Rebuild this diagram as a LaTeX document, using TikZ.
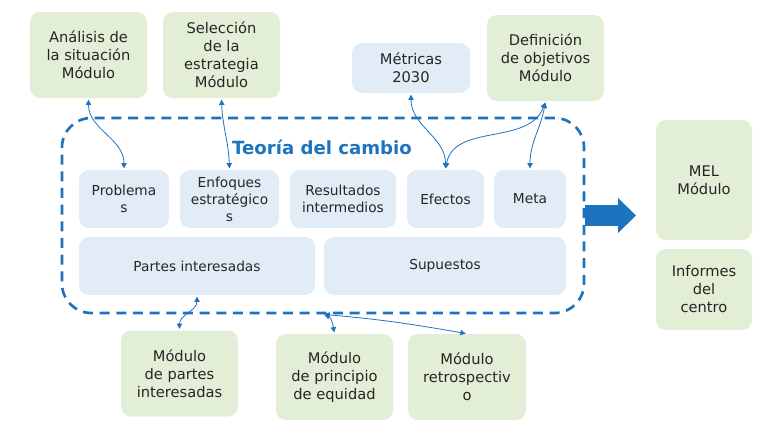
\documentclass[tikz,border=0pt]{standalone}
\usepackage{fontspec}
\setmainfont{DejaVu Sans}
\usepackage{tikz}
\usetikzlibrary{positioning, arrows.meta, calc}
\definecolor{verde}{HTML}{E2EED5}
\definecolor{celeste}{HTML}{E2ECF6}
\definecolor{azul}{HTML}{1E73BE}
\definecolor{tinta}{HTML}{262626}
\tikzset{
  caja/.style={fill=#1, rounded corners=7.5pt, align=center, text=tinta,
               font=\fontsize{11}{13.5}\selectfont, inner sep=2pt},
  caja/.default=verde,
  modulo/.style={caja=verde, minimum width=87.75pt, minimum height=64.5pt},
  bloque/.style={caja=celeste, minimum height=43.5pt, font=\fontsize{10.3}{12.75}\selectfont},
  marco/.style={draw=azul, line width=2pt, dash pattern=on 7.5pt off 5pt,
                rounded corners=22pt, minimum width=391.5pt, minimum height=146.25pt},
  con/.style={{Triangle[length=4pt,width=4pt]}-{Triangle[length=4pt,width=4pt]},
              draw=azul, line width=0.6pt, shorten <=1pt, shorten >=1pt},
  bigarr/.style={-{Triangle[length=13.5pt,width=25.5pt]}, line width=15.75pt, draw=azul},
}

\begin{document}
\begin{tikzpicture}[x=0.75pt, y=-0.75pt]
    \useasboundingbox (0,0) rectangle (768,433);
    % fila superior
    \node[modulo] (ana) at (88.5, 55)  {Análisis de\\la situación\\Módulo};
    \node[modulo] (sel) at (221.5, 55) {Selección\\de la\\estrategia\\Módulo};
    \node[caja=celeste, minimum width=88.5pt, minimum height=37.5pt]
                  (met) at (411, 68)   {Métricas\\2030};
    \node[modulo] (def) at (545.5, 58) {Definición\\de objetivos\\Módulo};
    % teoria del cambio
    \node[marco]  (toc) at (323, 215.5) {};
    \node[font=\fontsize{13.6}{16}\selectfont\bfseries, text=azul]
                  (titulo) at (322, 147) {Teoría del cambio};
    \node[bloque, minimum width=67.5pt] (prob) at (124, 199)   {Problema\\s};
    \node[bloque, minimum width=74.25pt] (enf) at (229.5, 199) {Enfoques\\estratégico\\s};
    \node[bloque, minimum width=79.5pt] (res)  at (343, 199)   {Resultados\\intermedios};
    \node[bloque, minimum width=57.75pt] (efe) at (445.5, 199) {Efectos};
    \node[bloque, minimum width=54pt] (meta)   at (530, 199)   {Meta};
    \node[bloque, minimum width=177pt] (partes) at (197, 266)  {Partes interesadas};
    \node[bloque, minimum width=181.5pt] (sup)  at (445, 266)  {Supuestos};
    % derecha
    \coordinate (fin) at (636, 215.5);
    \node[caja, minimum width=72pt, minimum height=90pt]    (mel) at (704, 180)   {MEL\\Módulo};
    \node[caja, minimum width=72pt, minimum height=60.75pt] (inf) at (704, 289.5) {Informes\\del\\centro};
    % fila inferior
    \node[modulo] (mpar)   at (179.5, 373.5) {Módulo\\de partes\\interesadas};
    \node[modulo] (mprin)  at (334.5, 377)   {Módulo\\de principio\\de equidad};
    \node[modulo, minimum width=88.5pt] (mret) at (467, 377) {Módulo\\retrospectiv\\o};

    \draw[bigarr] (toc.east) -- (fin);
    \draw[con] (ana.south) to[out=-90, in=90] (prob.north);
    \draw[con] (sel.south) to[out=-88, in=92] (enf.north);
    \draw[con] (met.south) to[out=-90, in=90] (efe.north);
    \draw[con] (def.south) to[out=-110, in=80] (efe.north);
    \draw[con] (def.south) to[out=-100, in=90] (meta.north);
    \draw[con] (partes.south) to[out=-90, in=90] (mpar.north);
    \draw[con] (toc.south) to[out=-20, in=100] (mprin.north);
    \draw[con] (toc.south) to[out=-5, in=170] (mret.north);
\end{tikzpicture}
\end{document}
